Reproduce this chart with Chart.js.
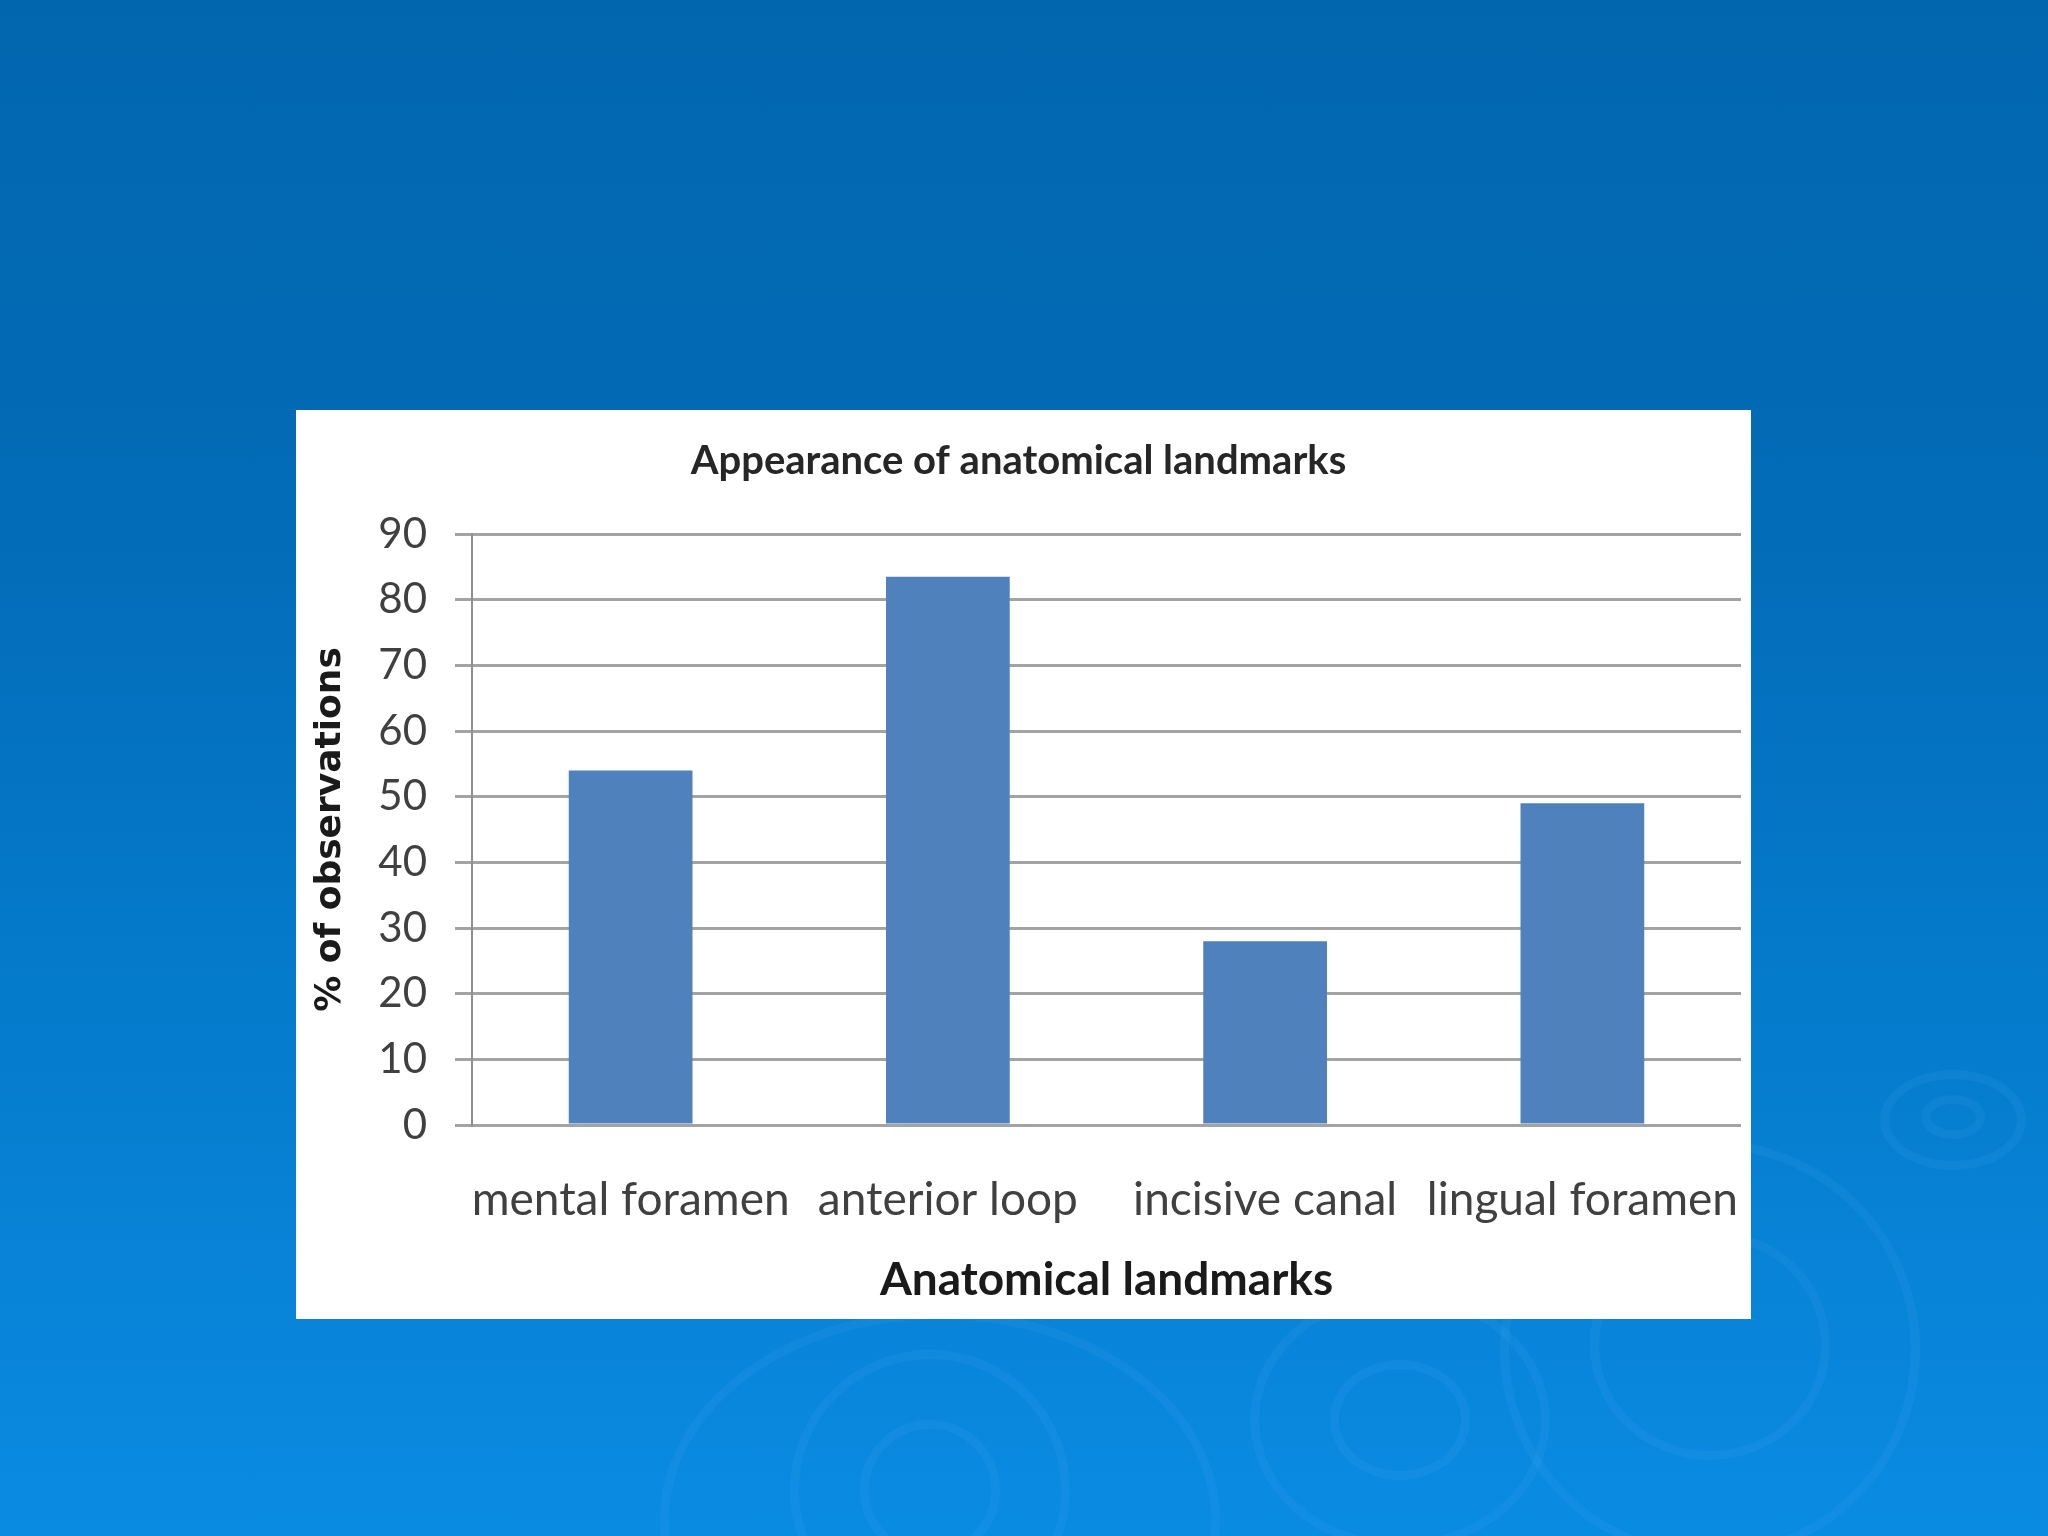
<!DOCTYPE html>
<html>
<head>
<meta charset="utf-8">
<script src="https://cdn.jsdelivr.net/npm/chart.js@4.4.0/dist/chart.umd.min.js"></script>
<style>
  html, body {
    margin: 0;
    padding: 0;
    width: 2048px;
    height: 1536px;
    overflow: hidden;
  }
  body {
    position: relative;
    background: linear-gradient(to bottom, #0266af 0%, #036cb8 35%, #057bcc 65%, #0a8be2 100%);
  }
  .ring {
    position: absolute;
    border-radius: 50%;
    border: 9px solid rgba(90, 175, 255, 0.10);
    box-sizing: border-box;
  }
  #panel {
    position: absolute;
    left: 296px;
    top: 410px;
    width: 1455px;
    height: 909px;
    background: #ffffff;
  }
</style>
</head>
<body>
<!-- faint water ripples -->
<div class="ring" style="left:1921px;top:1095px;width:64px;height:44px;"></div>
<div class="ring" style="left:1880px;top:1070px;width:146px;height:100px;"></div>
<div class="ring" style="left:1590px;top:1230px;width:240px;height:230px;"></div>
<div class="ring" style="left:1500px;top:1140px;width:420px;height:420px;"></div>
<div class="ring" style="left:1330px;top:1360px;width:140px;height:120px;"></div>
<div class="ring" style="left:1250px;top:1290px;width:300px;height:260px;"></div>
<div class="ring" style="left:860px;top:1420px;width:140px;height:140px;"></div>
<div class="ring" style="left:790px;top:1350px;width:280px;height:280px;"></div>
<div class="ring" style="left:660px;top:1310px;width:560px;height:420px;"></div>

<div id="panel"><canvas id="landmarkChart" width="1455" height="909"></canvas></div>

<script>
const landmarkLabels = ["mental foramen", "anterior loop", "incisive canal", "lingual foramen"];
const observationPct = [54, 83.5, 28, 49];
const yTicks = [0, 10, 20, 30, 40, 50, 60, 70, 80, 90];

const barBlue = "#4f81bd";
const gridGrey = "#a3a3a3";
const labelGrey = "#404040";

function drawLandmarkChart() {
  const ctx = document.getElementById("landmarkChart").getContext("2d");

  new Chart(ctx, {
    type: "bar",
    data: {
      labels: landmarkLabels,
      datasets: [
        {
          label: "% of observations",
          data: observationPct,
          backgroundColor: barBlue,
          borderWidth: 0,
          barPercentage: 0.39,
          categoryPercentage: 1,
        },
      ],
    },
    options: {
      responsive: false,
      animation: false,
      devicePixelRatio: 1,
      layout: {
        padding: { left: 0, right: 10, top: 0, bottom: 0 },
      },
      plugins: {
        legend: { display: false },
        tooltip: { enabled: false },
        title: {
          display: true,
          text: "Appearance of anatomical landmarks",
          color: "#262626",
          font: { family: "Lato", weight: "bold", size: 40 },
          padding: { top: 27, bottom: 49 },
        },
      },
      scales: {
        x: {
          grid: { display: false, drawTicks: false },
          border: { display: false },
          ticks: {
            color: labelGrey,
            font: { family: "Lato", size: 46 },
            autoSkip: false,
            maxRotation: 0,
            minRotation: 0,
            padding: 48,
          },
          title: {
            display: true,
            text: "Anatomical landmarks",
            color: "#1a1a1a",
            font: { family: "Lato", weight: "bold", size: 46 },
            padding: { top: 0, bottom: 11 },
          },
          afterFit: (scale) => {
            scale.height = 194;
            // labels may hang over the edges, as in the original
            scale.paddingLeft = 0;
            scale.paddingRight = 0;
          },
        },
        y: {
          min: 0,
          max: 90,
          afterBuildTicks: (scale) => {
            scale.ticks = yTicks.map((v) => ({ value: v }));
          },
          grid: {
            color: gridGrey,
            lineWidth: 3,
            tickLength: 17,
            drawTicks: true,
          },
          border: { display: true, color: "#8f8f8f", width: 2 },
          ticks: {
            color: labelGrey,
            font: { family: "Lato", size: 42 },
            padding: 28,
          },
          title: {
            display: true,
            text: "% of observations",
            color: "#1a1a1a",
            font: { family: "DejaVu Sans", weight: "bold", size: 36 },
            padding: { top: 13, bottom: 0 },
          },
          afterFit: (scale) => {
            scale.width = 176;
          },
        },
      },
    },
  });
}

drawLandmarkChart();
</script>
</body>
</html>
